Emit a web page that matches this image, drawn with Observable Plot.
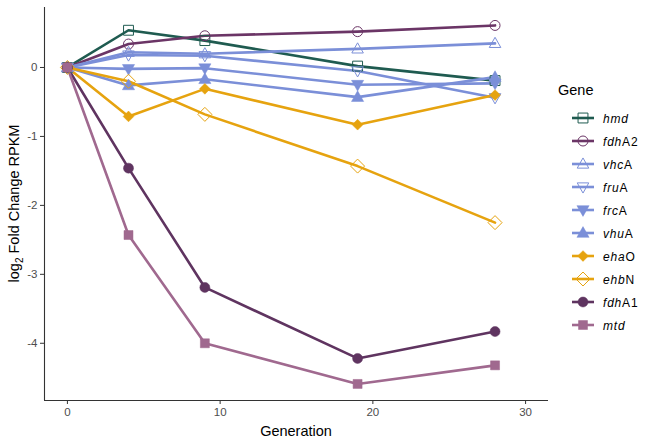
<!DOCTYPE html>
<html>
<head>
<meta charset="utf-8">
<script src="https://cdn.jsdelivr.net/npm/d3@7"></script>
<script src="https://cdn.jsdelivr.net/npm/@observablehq/plot@0.6"></script>
<style>
  html, body { margin: 0; padding: 0; background: #fff; }
  #wrap { position: relative; width: 651px; height: 445px; font-family: "Liberation Sans", Arial, sans-serif; }
  #chart { position: absolute; left: 0; top: 0; }
  #legend { position: absolute; left: 555px; top: 0; }
</style>
</head>
<body>
<div id="wrap"><div id="chart"></div><div id="legend"></div></div>
<script>
// ---- data ----
const generations = [0, 4, 9, 19, 28];
const genes = ["hmd", "fdhA2", "vhcA", "fruA", "frcA", "vhuA", "ehaO", "ehbN", "fdhA1", "mtd"];
const hmd   = [0, 0.54, 0.39, 0.02, -0.19];
const fdhA2 = [0, 0.34, 0.46, 0.52, 0.61];
const vhcA  = [0, 0.22, 0.20, 0.27, 0.35];
const fruA  = [0, 0.18, 0.17, -0.05, -0.44];
const frcA  = [0, -0.02, -0.01, -0.25, -0.23];
const vhuA  = [0, -0.26, -0.17, -0.43, -0.14];
const ehaO  = [0, -0.71, -0.31, -0.83, -0.40];
const ehbN  = [0, -0.20, -0.68, -1.43, -2.25];
const fdhA1 = [0, -1.46, -3.19, -4.22, -3.83];
const mtd   = [0, -2.43, -4.00, -4.59, -4.32];
const seriesValues = {hmd, fdhA2, vhcA, fruA, frcA, vhuA, ehaO, ehbN, fdhA1, mtd};
const xTicks = [0, 10, 20, 30];
const yTicks = [0, -1, -2, -3, -4];
// legend labels: [italic part, upright part]
const legendLabels = [["hmd",""],["fdh","A2"],["vhc","A"],["fru","A"],["frc","A"],["vhu","A"],["eha","O"],["ehb","N"],["fdh","A1"],["mtd",""]];

// ---- styles ----
const colors = ["#1f5b50", "#6b3566", "#7b8fd8", "#7b8fd8", "#7b8fd8", "#7b8fd8", "#e6a30f", "#e6a30f", "#5f3460", "#a0698f"];
const R = s => Math.sqrt(s / Math.PI);
const symSquare = {draw(c, s) { const h = R(s) * 0.9; c.rect(-h, -h, 2 * h, 2 * h); }};
const symCircle = {draw(c, s) { const r = R(s); c.moveTo(r, 0); c.arc(0, 0, r, 0, 2 * Math.PI); }};
const symTriUp = {draw(c, s) { const r = R(s); c.moveTo(0, -r * 1.1); c.lineTo(r * 1.05, r * 0.75); c.lineTo(-r * 1.05, r * 0.75); c.closePath(); }};
const symTriDown = {draw(c, s) { const r = R(s); c.moveTo(0, r * 1.1); c.lineTo(r * 1.05, -r * 0.75); c.lineTo(-r * 1.05, -r * 0.75); c.closePath(); }};
const symDiamond = {draw(c, s) { const r = R(s) * 1.25; c.moveTo(0, -r); c.lineTo(r, 0); c.lineTo(0, r); c.lineTo(-r, 0); c.closePath(); }};
const shapes = [symSquare, symCircle, symTriUp, symTriDown, symTriDown, symTriUp, symDiamond, symDiamond, symCircle, symSquare];
const filled = [false, false, false, false, true, true, true, false, true, true];
const sizes = [5.5, 5, 5.5, 5.5, 5.8, 5.8, 4.3, 5.6, 5, 5];

const rows = genes.flatMap(g => generations.map((gen, i) => ({gene: g, generation: gen, value: seriesValues[g][i]})));
const xDomain = [-1.5, 31.5];
const yDomain = [-4.83, 0.87];
const axisColor = "#333";

const marks = [
  Plot.ruleX([xDomain[0]], {stroke: axisColor, strokeWidth: 1.1}),
  Plot.ruleY([yDomain[0]], {stroke: axisColor, strokeWidth: 1.1}),
  Plot.axisX({ticks: xTicks, tickSize: 4, tickPadding: 3, fontSize: 11.5, color: "#4d4d4d", stroke: axisColor,
              label: null}),
  Plot.axisY({ticks: yTicks, tickSize: 4, tickPadding: 3, fontSize: 11.5, color: "#4d4d4d", stroke: axisColor,
              tickFormat: d => `${d}`, label: null}),
  Plot.line(rows, {x: "generation", y: "value", z: "gene", stroke: "gene", strokeWidth: 2.6, strokeLinejoin: "round"}),
  ...genes.map((g, i) => Plot.dot(rows, {
    filter: d => d.gene === g, x: "generation", y: "value",
    symbol: shapes[i], r: sizes[i],
    fill: filled[i] ? colors[i] : "none",
    stroke: colors[i], strokeWidth: filled[i] ? 0.5 : 1
  }))
];

const chart = Plot.plot({
  width: 555, height: 445,
  marginLeft: 44, marginRight: 7, marginTop: 7, marginBottom: 45,
  style: {fontFamily: "Liberation Sans, Arial, sans-serif", background: "white"},
  x: {domain: xDomain},
  y: {domain: yDomain},
  color: {domain: genes, range: colors},
  marks
});
document.getElementById("chart").appendChild(chart);

// axis titles
const svg = d3.select(chart);
svg.append("text").attr("x", (44 + 548) / 2).attr("y", 436).attr("text-anchor", "middle")
  .attr("font-size", 14.5).attr("fill", "#000").text("Generation");
const yl = svg.append("text").attr("transform", `translate(19,${(7 + 400) / 2}) rotate(-90)`)
  .attr("text-anchor", "middle").attr("font-size", 14.5).attr("fill", "#000");
yl.append("tspan").text("log");
yl.append("tspan").attr("font-size", 10).attr("dy", 4).text("2");
yl.append("tspan").attr("dy", -4).text(" Fold Change RPKM");

// legend
const lg = d3.select("#legend").append("svg").attr("width", 96).attr("height", 445)
  .style("font-family", "Liberation Sans, Arial, sans-serif");
lg.append("text").attr("x", 3).attr("y", 95).attr("font-size", 14.5).attr("fill", "#000").text("Gene");
genes.forEach((g, i) => {
  const y = 118 + i * 23;
  const gg = lg.append("g").attr("transform", `translate(0,${y})`);
  gg.append("line").attr("x1", 17).attr("x2", 39).attr("y1", 0).attr("y2", 0)
    .attr("stroke", colors[i]).attr("stroke-width", 2.6);
  gg.append("path").attr("transform", "translate(28,0)")
    .attr("d", d3.symbol().type(shapes[i]).size(Math.PI * sizes[i] * sizes[i])())
    .attr("fill", filled[i] ? colors[i] : "none")
    .attr("stroke", colors[i]).attr("stroke-width", filled[i] ? 0.5 : 1);
  const t = gg.append("text").attr("x", 48).attr("y", 4.5).attr("font-size", 12).attr("fill", "#000")
    .attr("letter-spacing", 0.8);
  t.append("tspan").attr("font-style", "italic").text(legendLabels[i][0]);
  if (legendLabels[i][1]) t.append("tspan").text(legendLabels[i][1]);
});
</script>
</body>
</html>
